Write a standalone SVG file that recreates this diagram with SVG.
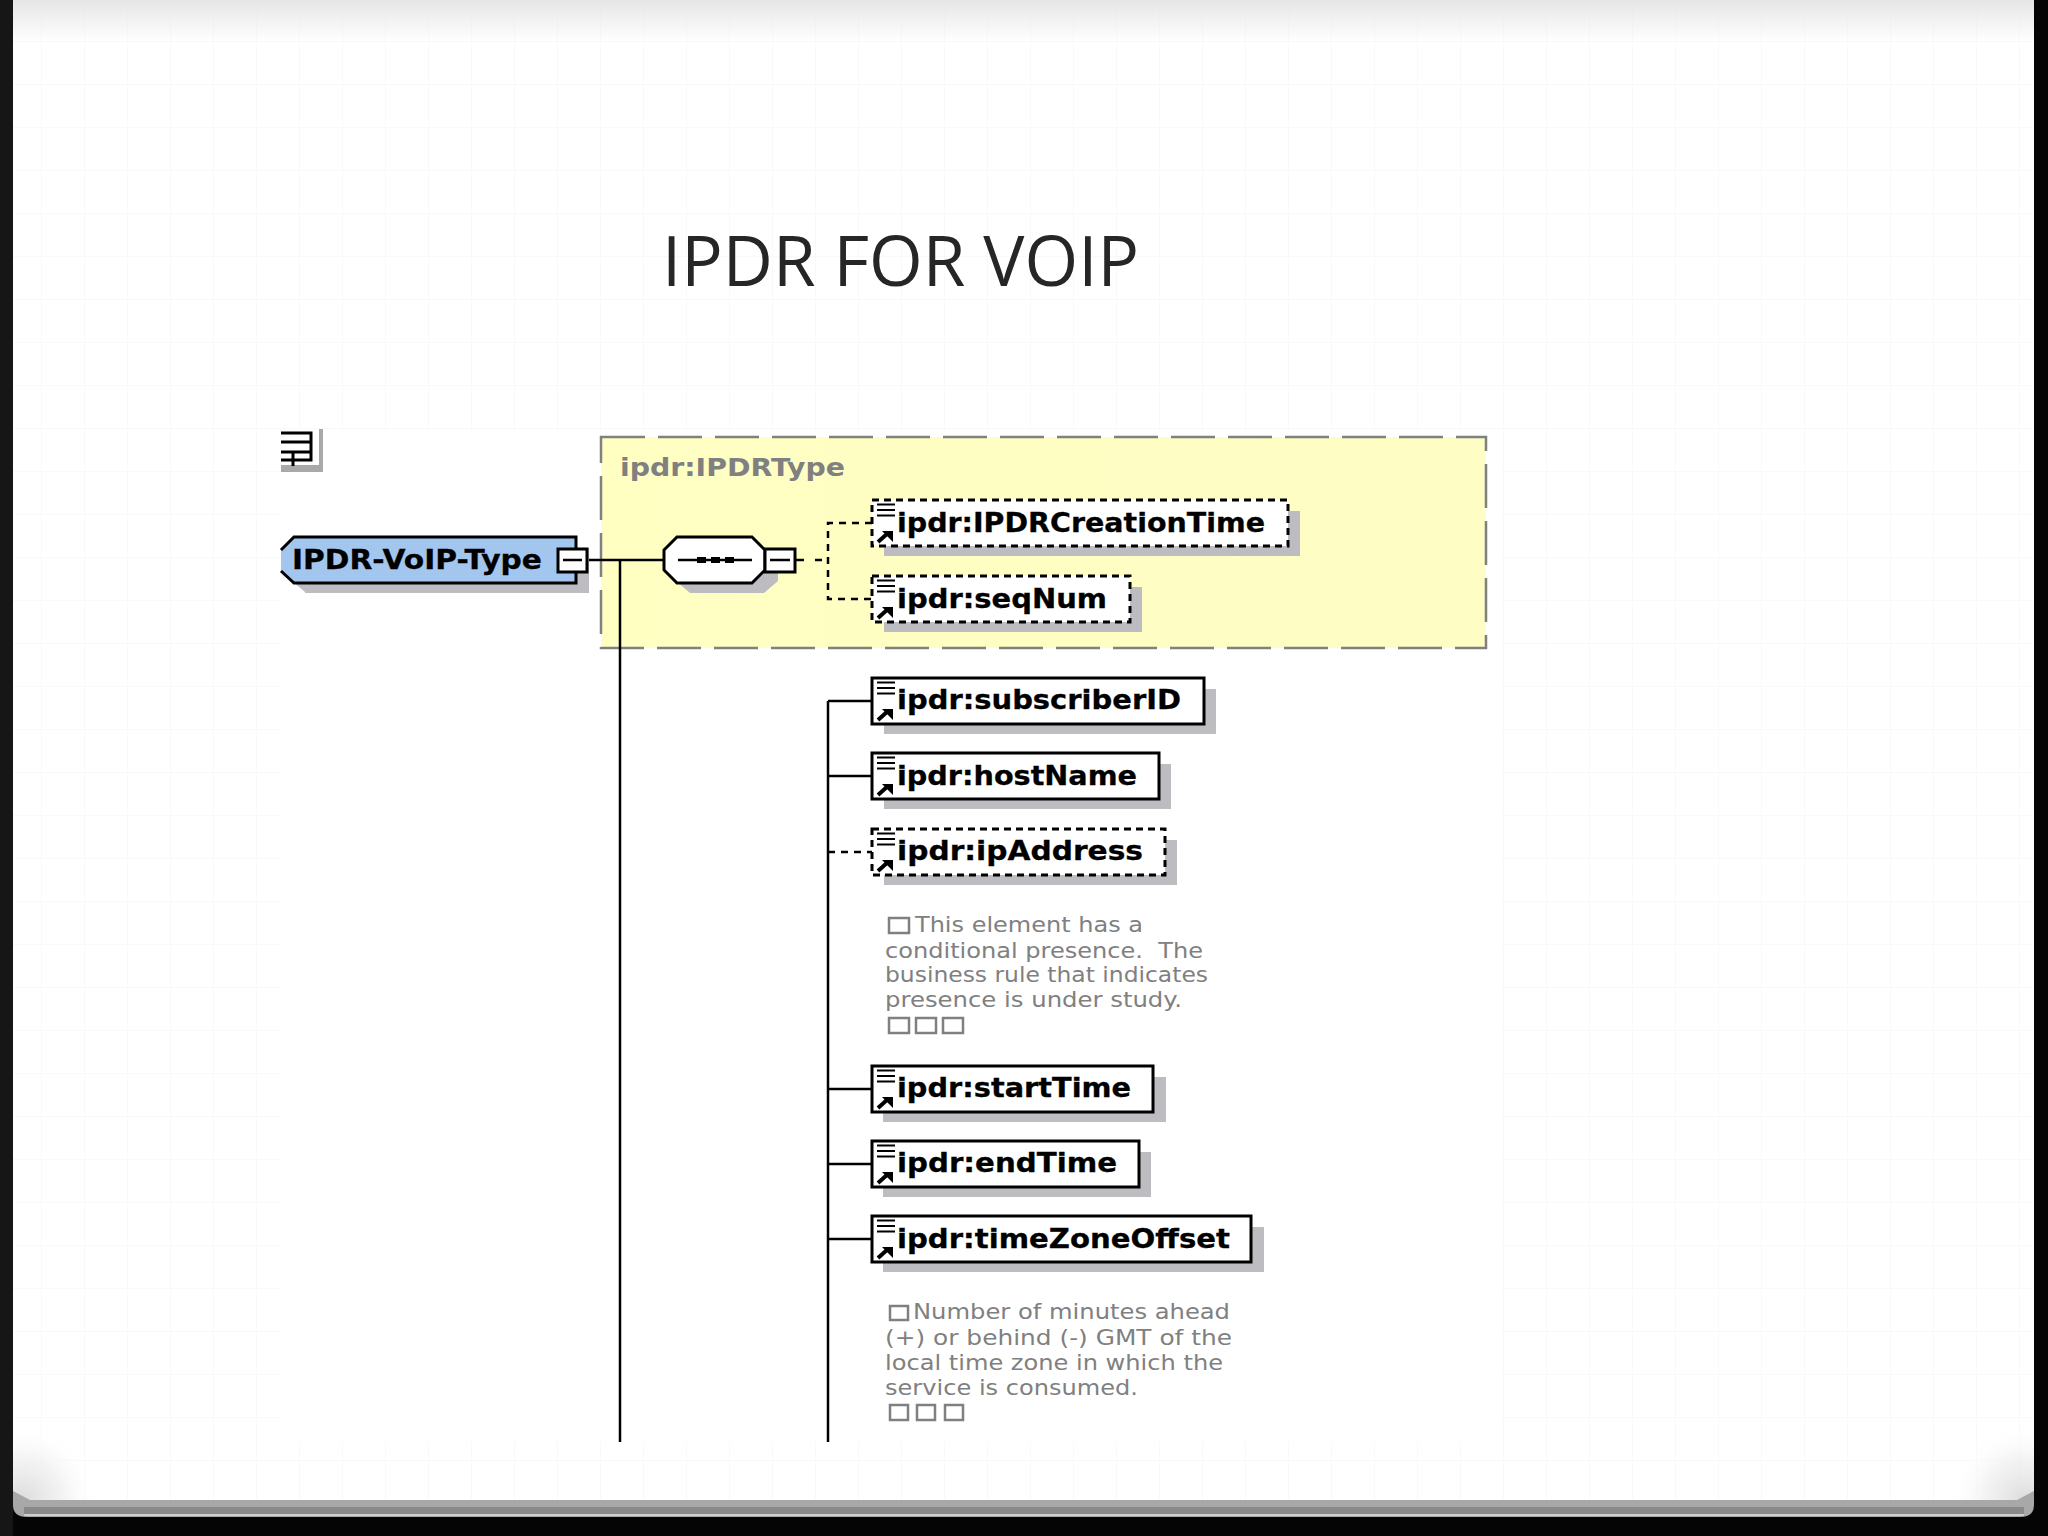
<svg xmlns="http://www.w3.org/2000/svg" xmlns:xlink="http://www.w3.org/1999/xlink" width="2048" height="1536" viewBox="0 0 2048 1536">
<style>
.sh{fill:#bdbcc0}
.box{fill:#fff;stroke:#000;stroke-width:3}
.opt{stroke-dasharray:7 5}
.el{font:bold 26px "DejaVu Sans",sans-serif;fill:#000;stroke:#000;stroke-width:.3}
.note{font:21px "DejaVu Sans",sans-serif;fill:#808080}
.tofu{fill:none;stroke:#808080;stroke-width:2.5}
.wire{fill:none;stroke:#000;stroke-width:2.5}
.dash{stroke-dasharray:7 6}
.ln{stroke:#000;stroke-width:2.2}
</style>
<defs>
<clipPath id="pg"><rect x="13" y="0" width="2021" height="1500"/></clipPath>
<pattern id="grid" width="43" height="43" patternUnits="userSpaceOnUse" patternTransform="translate(-1 -1)">
<path d="M43 0V43M0 43H43" fill="none" stroke="#f9f9f9" stroke-width="2"/>
</pattern>
<linearGradient id="top" x1="0" y1="0" x2="0" y2="1"><stop offset="0" stop-color="#e6e6e6"/><stop offset="1" stop-color="#e6e6e6" stop-opacity="0"/></linearGradient>
<radialGradient id="corner"><stop offset="0" stop-color="#dcdcdc"/><stop offset=".55" stop-color="#eeeeee" stop-opacity=".7"/><stop offset="1" stop-color="#fff" stop-opacity="0"/></radialGradient>
<linearGradient id="yel" x1="0" x2="1" y1="0" y2="0"><stop offset="0" stop-color="#ffffc2"/><stop offset="1" stop-color="#fdfdc4"/></linearGradient>
<g id="ic">
<path d="M5 4.5H23M5 10H23M5 15.5H23" class="ln" fill="none"/>
<path d="M6 42L16 33" stroke="#000" stroke-width="4" fill="none"/>
<path d="M10 31H21V42Z" fill="#000"/>
</g>
</defs>
<rect width="2048" height="1536" fill="#050505"/>
<rect x="0" y="0" width="13" height="1536" fill="#161616"/>
<g id="page">
<rect x="13" y="0" width="2021" height="1500" fill="#fff"/>
<rect x="13" y="0" width="2021" height="1500" fill="url(#grid)"/>
<rect x="13" y="0" width="2021" height="42" fill="url(#top)"/>
<rect x="281" y="430" width="1220" height="1012" fill="#fff"/>
<g clip-path="url(#pg)">
<ellipse cx="22" cy="1500" rx="75" ry="75" fill="url(#corner)"/>
<ellipse cx="2025" cy="1500" rx="75" ry="75" fill="url(#corner)"/>
</g>
<path d="M13 1491L30 1500H2017L2034 1491V1505Q2034 1517 2020 1517H27Q13 1517 13 1505Z" fill="#a8a8a8"/>
<rect x="24" y="1507" width="2000" height="7" fill="#8a8a8a"/>
<rect x="24" y="1514" width="2000" height="2" fill="#cfcfcf"/>
</g>
<text id="title" x="662" y="286" font-family="'Open Sans','Noto Sans',sans-serif" font-size="70" fill="#262626" textLength="477" lengthAdjust="spacingAndGlyphs">IPDR FOR VOIP</text>
<g id="icon-corner">
<path d="M281 429H323V472H281Z" fill="#fff"/>
<path d="M319 429H323V472H281V465H319Z" fill="#a9a9a9"/>
<path d="M281 433H311V460H281M281 442H311M281 452H311M293 452V466" fill="none" stroke="#000" stroke-width="3"/>
</g>
<g id="group-ipdr-type">
<rect x="601" y="437" width="885" height="211" fill="url(#yel)" stroke="#808080" stroke-width="2.5" stroke-dasharray="44 13"/>
<text x="620" y="476" font-family="'DejaVu Sans',sans-serif" font-weight="bold" font-size="25" fill="#808080" textLength="225" lengthAdjust="spacingAndGlyphs">ipdr:IPDRType</text>
</g>
<g id="connectors">
<path class="wire" d="M587 560H664M620 560V1442M828 701V1442"/>
<path class="wire" d="M752 560H678"/>
<path class="wire" d="M795 560H804"/>
<path class="wire dash" d="M815 560H828M872 523H828V599H872"/>
<path class="wire" d="M828 701H872M828 776H872M828 1089H872M828 1164H872M828 1239H872"/>
<path class="wire dash" d="M828 852H872"/>
</g>
<g id="node-ipdr-voip-type">
<path class="sh" d="M305 592L291 580V548H589V593H305Z"/>
<path d="M281 550L294 537H576V583H294L281 571Z" fill="#a3c6ee"/>
<path d="M281 550L294 537H576V583H294L281 571" fill="none" stroke="#000" stroke-width="3"/>
<text x="292" y="569" class="el" textLength="250" lengthAdjust="spacingAndGlyphs">IPDR-VoIP-Type</text>
<rect x="558" y="549" width="29" height="23" class="box"/>
<path d="M563 560H582" class="wire"/>
</g>
<g id="node-sequence">
<path class="sh" d="M690 593L676 581V548H778V581L764 593Z"/>
<path d="M664 550L677 537H752L765 550V570L752 583H677L664 570Z" class="box"/>
<path d="M678 560H752" class="wire"/>
<path d="M697 557h9v6h-9zM711 557h9v6h-9zM725 557h9v6h-9z" fill="#000"/>
<rect x="765" y="549" width="30" height="23" class="box"/>
<path d="M770 560H790" class="wire"/>
</g>
<g id="node-creation-time">
<rect x="884" y="511" width="416" height="45" class="sh"/>
<rect x="872" y="500" width="416" height="46" class="box opt"/>
<use xlink:href="#ic" href="#ic" x="872" y="500"/>
<text x="897" y="532" class="el" textLength="368" lengthAdjust="spacingAndGlyphs">ipdr:IPDRCreationTime</text>
</g>
<g id="node-seqnum">
<rect x="884" y="587" width="258" height="45" class="sh"/>
<rect x="872" y="576" width="258" height="46" class="box opt"/>
<use xlink:href="#ic" href="#ic" x="872" y="576"/>
<text x="897" y="608" class="el" textLength="210" lengthAdjust="spacingAndGlyphs">ipdr:seqNum</text>
</g>
<g id="node-subscriberid">
<rect x="884" y="689" width="332" height="45" class="sh"/>
<rect x="872" y="678" width="332" height="46" class="box"/>
<use xlink:href="#ic" href="#ic" x="872" y="678"/>
<text x="897" y="709" class="el" textLength="284" lengthAdjust="spacingAndGlyphs">ipdr:subscriberID</text>
</g>
<g id="node-hostname">
<rect x="884" y="764" width="287" height="45" class="sh"/>
<rect x="872" y="753" width="287" height="46" class="box"/>
<use xlink:href="#ic" href="#ic" x="872" y="753"/>
<text x="897" y="785" class="el" textLength="240" lengthAdjust="spacingAndGlyphs">ipdr:hostName</text>
</g>
<g id="node-ipaddress">
<rect x="884" y="840" width="293" height="45" class="sh"/>
<rect x="872" y="829" width="293" height="46" class="box opt"/>
<use xlink:href="#ic" href="#ic" x="872" y="829"/>
<text x="897" y="860" class="el" textLength="246" lengthAdjust="spacingAndGlyphs">ipdr:ipAddress</text>
</g>
<g id="note-ipaddress">
<rect x="889" y="918" width="20" height="15" class="tofu"/>
<text x="915" y="932" class="note" textLength="228" lengthAdjust="spacingAndGlyphs">This element has a</text>
<text x="885" y="958" class="note" textLength="318" lengthAdjust="spacingAndGlyphs" xml:space="preserve">conditional presence.  The</text>
<text x="885" y="982" class="note" textLength="323" lengthAdjust="spacingAndGlyphs">business rule that indicates</text>
<text x="885" y="1007" class="note" textLength="297" lengthAdjust="spacingAndGlyphs">presence is under study.</text>
<rect x="889" y="1018" width="20" height="15" class="tofu"/>
<rect x="916" y="1018" width="20" height="15" class="tofu"/>
<rect x="943" y="1018" width="20" height="15" class="tofu"/>
</g>
<g id="node-starttime">
<rect x="883" y="1077" width="283" height="45" class="sh"/>
<rect x="872" y="1066" width="281" height="46" class="box"/>
<use xlink:href="#ic" href="#ic" x="872" y="1066"/>
<text x="897" y="1097" class="el" textLength="234" lengthAdjust="spacingAndGlyphs">ipdr:startTime</text>
</g>
<g id="node-endtime">
<rect x="883" y="1152" width="268" height="45" class="sh"/>
<rect x="872" y="1141" width="267" height="46" class="box"/>
<use xlink:href="#ic" href="#ic" x="872" y="1141"/>
<text x="897" y="1172" class="el" textLength="220" lengthAdjust="spacingAndGlyphs">ipdr:endTime</text>
</g>
<g id="node-timezoneoffset">
<rect x="883" y="1227" width="381" height="45" class="sh"/>
<rect x="872" y="1216" width="379" height="46" class="box"/>
<use xlink:href="#ic" href="#ic" x="872" y="1216"/>
<text x="897" y="1248" class="el" textLength="333" lengthAdjust="spacingAndGlyphs">ipdr:timeZoneOffset</text>
</g>
<g id="note-timezoneoffset">
<rect x="890" y="1306" width="18" height="14" class="tofu"/>
<text x="913" y="1319" class="note" textLength="317" lengthAdjust="spacingAndGlyphs">Number of minutes ahead</text>
<text x="885" y="1345" class="note" textLength="347" lengthAdjust="spacingAndGlyphs">(+) or behind (-) GMT of the</text>
<text x="885" y="1370" class="note" textLength="338" lengthAdjust="spacingAndGlyphs">local time zone in which the</text>
<text x="885" y="1395" class="note" textLength="253" lengthAdjust="spacingAndGlyphs">service is consumed.</text>
<rect x="890" y="1405" width="18" height="15" class="tofu"/>
<rect x="917" y="1405" width="18" height="15" class="tofu"/>
<rect x="945" y="1405" width="18" height="15" class="tofu"/>
</g>
</svg>
